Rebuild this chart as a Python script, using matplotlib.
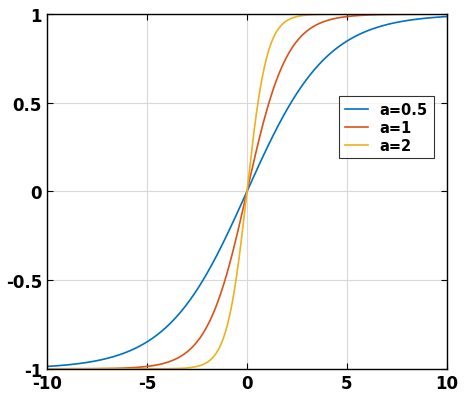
import numpy as np
import matplotlib
matplotlib.use("Agg")
import matplotlib.pyplot as plt

# curve parameters and their legend labels
a_values = [0.5, 1, 2]
labels = ["a=0.5", "a=1", "a=2"]
colors = ["#0072BD", "#D95319", "#EDB120"]
x_ticks = [-10, -5, 0, 5, 10]
y_ticks = [-1, -0.5, 0, 0.5, 1]
y_ticklabels = ["-1", "-0.5", "0", "0.5", "1"]

x = np.linspace(-10, 10, 801)

fig = plt.figure(figsize=(4.74, 4.1), dpi=100)
ax = fig.add_axes([0.099, 0.098, 0.844, 0.865])

for a, lab, c in zip(a_values, labels, colors):
    # bipolar sigmoid
    y = 2 / (1 + np.exp(-a * x)) - 1
    ax.plot(x, y, color=c, linewidth=1.2, label=lab)

ax.set_xlim(-10, 10)
ax.set_ylim(-1, 1)
ax.set_xticks(x_ticks)
ax.set_yticks(y_ticks)
ax.set_xticklabels([str(t) for t in x_ticks], fontsize=12, fontweight="bold")
ax.set_yticklabels(y_ticklabels, fontsize=12, fontweight="bold")
ax.grid(True, color="#d9d9d9", linewidth=0.8)
ax.tick_params(direction="in", length=4, top=True, right=True)
for s in ax.spines.values():
    s.set_linewidth(1.0)

leg = ax.legend(loc="upper right", bbox_to_anchor=(0.985, 0.79), fancybox=False,
                edgecolor="black", prop={"weight": "bold", "size": 10.5},
                handlelength=1.6, borderpad=0.4, labelspacing=0.2)
leg.get_frame().set_linewidth(0.8)

plt.savefig("out.png", dpi=100)
